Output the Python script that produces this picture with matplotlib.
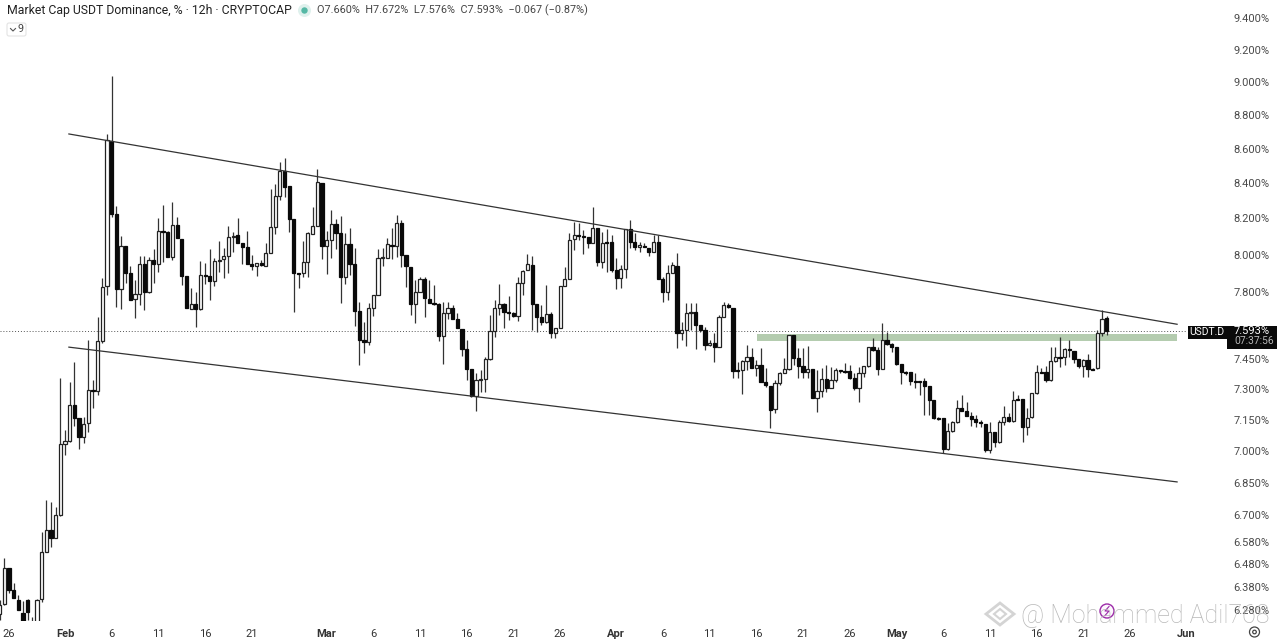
import matplotlib
matplotlib.use('Agg')
import matplotlib.pyplot as plt
import matplotlib.dates as mdates
from matplotlib.patches import Circle, FancyBboxPatch, Polygon, Rectangle
import numpy as np
import pandas as pd

plt.rcParams['font.family'] = ['Roboto', 'DejaVu Sans']

opens = [
    6.263, 6.306, 6.463, 6.367, 6.323, 6.267, 6.323, 6.190, 6.230, 6.327,
    6.533, 6.633, 6.596, 6.700, 7.033, 7.047, 7.222, 7.159, 7.067, 7.135,
    7.296, 7.291, 7.543, 7.831, 8.645, 8.225, 7.815, 8.048, 7.902, 7.762,
    7.789, 7.950, 7.800, 7.971, 7.950, 8.130, 8.125, 7.987, 8.163, 8.086,
    7.886, 7.709, 7.736, 7.709, 7.891, 7.886, 7.859, 7.966, 7.976, 7.993,
    8.097, 8.108, 8.064, 8.042, 7.950, 7.939, 7.955, 7.939, 8.009, 8.152,
    8.327, 8.469, 8.383, 8.197, 7.902, 7.902, 7.960, 8.114, 8.158, 8.400,
    8.048, 8.081, 8.169, 8.119, 7.880, 8.059, 7.950, 7.699, 7.548, 7.538,
    7.715, 7.783, 7.982, 7.982, 8.053, 8.048, 8.174, 7.998, 7.934, 7.736,
    7.800, 7.870, 7.762, 7.741, 7.736, 7.569, 7.689, 7.715, 7.657, 7.605,
    7.502, 7.401, 7.266, 7.346, 7.351, 7.452, 7.595, 7.715, 7.736, 7.693,
    7.689, 7.673, 7.848, 7.918, 7.945, 7.736, 7.668, 7.642, 7.683, 7.585,
    7.610, 7.831, 7.870, 8.086, 8.108, 8.103, 8.097, 8.064, 8.147, 7.960,
    8.070, 8.070, 7.918, 7.875, 7.923, 8.141, 8.070, 8.042, 8.048, 8.037,
    8.015, 8.070, 7.870, 7.800, 7.902, 7.939, 7.585, 7.600, 7.689, 7.693,
    7.626, 7.600, 7.522, 7.533, 7.512, 7.668, 7.730, 7.715, 7.396, 7.396,
    7.442, 7.462, 7.406, 7.421, 7.336, 7.316, 7.203, 7.331, 7.381, 7.401,
    7.574, 7.457, 7.416, 7.386, 7.401, 7.256, 7.291, 7.351, 7.306, 7.346,
    7.396, 7.391, 7.391, 7.356, 7.306, 7.381, 7.416, 7.512, 7.497, 7.401,
    7.548, 7.528, 7.512, 7.426, 7.386, 7.386, 7.341, 7.341, 7.341, 7.316,
    7.246, 7.159, 7.159, 7.009, 7.096, 7.140, 7.208, 7.193, 7.169, 7.154,
    7.140, 7.130, 7.004, 7.091, 7.042, 7.140, 7.164, 7.145, 7.251, 7.251,
    7.115, 7.164, 7.281, 7.386, 7.386, 7.346, 7.442, 7.462, 7.462, 7.502,
    7.492, 7.452, 7.416, 7.447, 7.401, 7.406, 7.585, 7.660,
]
highs = [
    6.323, 6.507, 6.463, 6.397, 6.345, 6.319, 6.327, 6.251, 6.327, 6.624,
    6.769, 6.760, 6.737, 7.356, 7.101, 7.336, 7.437, 7.159, 7.164, 7.548,
    7.346, 7.668, 7.875, 8.686, 9.035, 8.270, 8.103, 8.048, 7.939, 7.864,
    7.993, 7.993, 7.987, 8.031, 8.202, 8.275, 8.130, 8.293, 8.208, 8.086,
    7.886, 7.820, 7.800, 7.966, 7.955, 8.031, 7.982, 8.075, 8.037, 8.158,
    8.125, 8.202, 8.064, 8.130, 7.998, 7.955, 7.971, 8.064, 8.366, 8.395,
    8.521, 8.545, 8.383, 8.197, 7.902, 8.075, 8.125, 8.264, 8.481, 8.400,
    8.130, 8.247, 8.197, 8.213, 8.119, 8.147, 8.037, 7.746, 7.642, 7.741,
    7.783, 8.031, 8.037, 8.092, 8.147, 8.219, 8.191, 7.998, 7.934, 7.864,
    7.880, 7.880, 7.864, 7.837, 7.741, 7.746, 7.746, 7.730, 7.689, 7.605,
    7.548, 7.401, 7.381, 7.396, 7.462, 7.678, 7.757, 7.842, 7.741, 7.778,
    7.693, 7.880, 7.918, 8.004, 7.993, 7.736, 7.730, 7.837, 7.693, 7.610,
    7.831, 7.934, 8.119, 8.180, 8.174, 8.136, 8.097, 8.264, 8.147, 8.125,
    8.141, 8.108, 7.982, 7.945, 8.141, 8.191, 8.119, 8.070, 8.064, 8.037,
    8.108, 8.108, 7.880, 7.945, 7.960, 8.009, 7.642, 7.741, 7.741, 7.741,
    7.626, 7.616, 7.548, 7.585, 7.678, 7.746, 7.741, 7.715, 7.437, 7.447,
    7.522, 7.507, 7.447, 7.507, 7.406, 7.316, 7.346, 7.386, 7.457, 7.574,
    7.574, 7.507, 7.507, 7.517, 7.401, 7.396, 7.406, 7.421, 7.411, 7.406,
    7.396, 7.432, 7.421, 7.381, 7.411, 7.416, 7.512, 7.559, 7.512, 7.637,
    7.590, 7.533, 7.512, 7.426, 7.391, 7.386, 7.381, 7.341, 7.356, 7.316,
    7.246, 7.164, 7.159, 7.135, 7.145, 7.246, 7.271, 7.236, 7.188, 7.173,
    7.149, 7.130, 7.140, 7.091, 7.149, 7.217, 7.183, 7.291, 7.271, 7.251,
    7.208, 7.281, 7.421, 7.406, 7.416, 7.512, 7.512, 7.564, 7.507, 7.548,
    7.492, 7.452, 7.452, 7.477, 7.406, 7.600, 7.704, 7.672,
]
lows = [
    6.238, 6.301, 6.354, 6.332, 6.280, 6.217, 6.238, 6.170, 6.217, 6.315,
    6.533, 6.555, 6.596, 6.696, 6.980, 7.042, 7.120, 7.009, 7.038, 7.091,
    7.208, 7.271, 7.533, 7.783, 8.208, 7.720, 7.709, 7.848, 7.757, 7.662,
    7.730, 7.704, 7.794, 7.848, 7.907, 7.960, 7.987, 7.971, 8.092, 7.837,
    7.715, 7.709, 7.616, 7.704, 7.842, 7.757, 7.831, 7.907, 7.875, 7.902,
    8.015, 8.064, 7.950, 7.950, 7.918, 7.886, 7.939, 7.939, 8.009, 8.114,
    8.304, 8.320, 8.125, 7.693, 7.820, 7.880, 7.880, 8.114, 8.158, 7.976,
    7.897, 7.982, 8.031, 7.741, 7.842, 7.891, 7.621, 7.421, 7.482, 7.522,
    7.673, 7.783, 7.939, 7.982, 7.976, 7.987, 7.934, 7.826, 7.678, 7.637,
    7.800, 7.668, 7.741, 7.730, 7.543, 7.426, 7.657, 7.657, 7.610, 7.467,
    7.346, 7.261, 7.193, 7.286, 7.286, 7.447, 7.564, 7.678, 7.610, 7.652,
    7.668, 7.647, 7.783, 7.918, 7.600, 7.590, 7.626, 7.637, 7.559, 7.559,
    7.610, 7.831, 7.870, 8.026, 8.081, 8.004, 8.037, 8.064, 7.939, 7.928,
    7.907, 7.907, 7.815, 7.820, 7.875, 8.037, 8.026, 8.015, 8.042, 7.993,
    8.015, 7.870, 7.746, 7.757, 7.902, 7.507, 7.548, 7.517, 7.600, 7.502,
    7.590, 7.497, 7.517, 7.437, 7.512, 7.668, 7.715, 7.356, 7.356, 7.276,
    7.396, 7.406, 7.366, 7.336, 7.311, 7.111, 7.183, 7.321, 7.381, 7.396,
    7.421, 7.356, 7.356, 7.356, 7.256, 7.188, 7.261, 7.286, 7.306, 7.336,
    7.381, 7.381, 7.351, 7.296, 7.236, 7.361, 7.411, 7.492, 7.371, 7.401,
    7.522, 7.487, 7.421, 7.326, 7.371, 7.321, 7.306, 7.271, 7.173, 7.173,
    7.154, 7.149, 6.990, 7.004, 7.091, 7.135, 7.193, 7.169, 7.120, 7.115,
    7.115, 6.994, 6.990, 7.018, 7.038, 7.125, 7.140, 7.140, 7.246, 7.042,
    7.077, 7.159, 7.276, 7.381, 7.336, 7.341, 7.437, 7.411, 7.421, 7.462,
    7.432, 7.406, 7.361, 7.361, 7.396, 7.401, 7.569, 7.576,
]
closes = [
    6.301, 6.463, 6.367, 6.332, 6.280, 6.217, 6.272, 6.210, 6.323, 6.533,
    6.633, 6.596, 6.700, 7.033, 7.047, 7.222, 7.159, 7.067, 7.130, 7.296,
    7.291, 7.543, 7.826, 8.651, 8.225, 7.815, 8.048, 7.902, 7.757, 7.789,
    7.950, 7.800, 7.971, 7.950, 8.130, 8.125, 7.987, 8.163, 8.092, 7.886,
    7.715, 7.736, 7.709, 7.891, 7.886, 7.859, 7.966, 7.971, 7.993, 8.097,
    8.103, 8.064, 8.042, 7.950, 7.939, 7.955, 7.945, 8.009, 8.152, 8.327,
    8.469, 8.377, 8.197, 7.902, 7.897, 7.960, 8.119, 8.158, 8.406, 8.048,
    8.081, 8.169, 8.119, 7.880, 8.059, 7.950, 7.699, 7.548, 7.538, 7.715,
    7.783, 7.982, 7.987, 8.059, 8.048, 8.174, 7.998, 7.939, 7.736, 7.800,
    7.870, 7.768, 7.741, 7.736, 7.569, 7.689, 7.715, 7.657, 7.610, 7.502,
    7.401, 7.266, 7.346, 7.351, 7.452, 7.595, 7.715, 7.736, 7.693, 7.689,
    7.673, 7.848, 7.913, 7.950, 7.736, 7.668, 7.642, 7.683, 7.585, 7.610,
    7.831, 7.870, 8.081, 8.108, 8.103, 8.097, 8.064, 8.147, 7.960, 8.064,
    8.064, 7.918, 7.875, 7.923, 8.141, 8.070, 8.042, 8.053, 8.042, 8.015,
    8.070, 7.870, 7.800, 7.902, 7.945, 7.585, 7.600, 7.689, 7.693, 7.626,
    7.600, 7.522, 7.533, 7.512, 7.668, 7.730, 7.720, 7.391, 7.391, 7.442,
    7.462, 7.406, 7.421, 7.336, 7.321, 7.198, 7.331, 7.381, 7.401, 7.574,
    7.457, 7.416, 7.386, 7.401, 7.256, 7.291, 7.351, 7.306, 7.346, 7.396,
    7.391, 7.386, 7.356, 7.306, 7.381, 7.416, 7.512, 7.497, 7.401, 7.548,
    7.528, 7.512, 7.426, 7.386, 7.381, 7.341, 7.336, 7.336, 7.316, 7.246,
    7.159, 7.154, 7.009, 7.096, 7.140, 7.208, 7.193, 7.169, 7.154, 7.140,
    7.135, 7.004, 7.091, 7.042, 7.140, 7.164, 7.145, 7.246, 7.246, 7.115,
    7.159, 7.281, 7.386, 7.381, 7.346, 7.442, 7.462, 7.457, 7.502, 7.497,
    7.452, 7.416, 7.447, 7.401, 7.396, 7.585, 7.657, 7.593,
]

first_candle = '2025-01-25 00:00'
price_ticks = [9.4, 9.2, 9.0, 8.8, 8.6, 8.4, 8.2, 8.0, 7.8, 7.45, 7.3, 7.15,
               7.0, 6.85, 6.7, 6.58, 6.48, 6.38, 6.28]
date_ticks = ['2025-01-26', '2025-02-01', '2025-02-06', '2025-02-11', '2025-02-16',
              '2025-02-21', '2025-03-01', '2025-03-06', '2025-03-11', '2025-03-16',
              '2025-03-21', '2025-03-26', '2025-04-01', '2025-04-06', '2025-04-11',
              '2025-04-16', '2025-04-21', '2025-04-26', '2025-05-01', '2025-05-06',
              '2025-05-11', '2025-05-16', '2025-05-21', '2025-05-26', '2025-06-01']
date_labels = ['26', 'Feb', '6', '11', '16', '21', 'Mar', '6', '11', '16', '21', '26',
               'Apr', '6', '11', '16', '21', '26', 'May', '6', '11', '16', '21', '26', 'Jun']

# trend lines and the support band
upper_dates = ['2025-02-01 10:00', '2025-05-31 01:00']
upper_vals = [8.686, 7.630]
lower_dates = ['2025-02-01 10:00', '2025-05-31 01:00']
lower_vals = [7.512, 6.853]
band_dates = ['2025-04-16 02:00', '2025-05-31 01:00']
band_vals = [7.544, 7.579]
last_price = 7.593

W, H = 1280, 641
fig = plt.figure(figsize=(W / 100, H / 100), dpi=100)
ax = fig.add_axes([0, 1 - 621 / H, 1228 / W, 621 / H])

o = np.array(opens)
c = np.array(closes)
x = mdates.date2num(pd.date_range(first_candle, periods=len(o), freq='12h'))
feb1 = mdates.date2num(pd.Timestamp('2025-02-01'))
day_px = 9.342

ax.vlines(x, lows, highs, color='#333333', lw=0.9, zorder=3)
up = c >= o
body_w = 3.2 / day_px
ax.bar(x[up], (c - o)[up], bottom=o[up], width=body_w, facecolor='white',
       edgecolor='#222222', linewidth=0.9, zorder=4)
ax.bar(x[~up], (o - c)[~up], bottom=c[~up], width=body_w, facecolor='#0a0a0a',
       edgecolor='#0a0a0a', linewidth=0.9, zorder=4)

ax.plot(mdates.datestr2num(upper_dates), upper_vals, color='#333333', lw=0.9, zorder=5)
ax.plot(mdates.datestr2num(lower_dates), lower_vals, color='#333333', lw=0.9, zorder=5)
bd = mdates.datestr2num(band_dates)
ax.fill_between(bd, band_vals[0], band_vals[1], color='#b4ccaf', lw=0, zorder=2)
ax.hlines(last_price, feb1 - 65 / day_px, mdates.datestr2num('2025-06-01'),
          color='#555555', lw=0.7, linestyles=(0, (1, 2)), zorder=1)

ax.set_yscale('log')
ax.set_ylim(9.4 * np.exp(-603 / 1468), 9.4 * np.exp(18 / 1468))
ax.set_xlim(feb1 - 65 / day_px, feb1 + (1228 - 65) / day_px)
ax.yaxis.tick_right()
ax.set_yticks(price_ticks)
ax.set_yticklabels(['%.3f%%' % p for p in price_ticks])
ax.minorticks_off()
ax.tick_params(axis='y', length=0, pad=4, labelsize=8, labelcolor='#4a4a4a')
ax.set_xticks(mdates.datestr2num(date_ticks))
ax.set_xticklabels(date_labels)
ax.tick_params(axis='x', length=0, pad=6, labelsize=8, labelcolor='#333333')
for t in ax.get_xticklabels():
    if t.get_text() in ('Feb', 'Mar', 'Apr', 'May', 'Jun'):
        t.set_fontweight('bold')
for s in ax.spines.values():
    s.set_visible(False)

# overlay in pixel units for the header, price tags and icons
ov = fig.add_axes([0, 0, 1, 1], zorder=10)
ov.set_xlim(0, W)
ov.set_ylim(H, 0)
ov.axis('off')

ov.text(7, 10.5, 'Market Cap USDT Dominance, % · 12h · CRYPTOCAP', fontsize=8.8,
        color='#222222', va='center', ha='left')
ov.add_patch(Circle((304.5, 10.5), 6.5, fc='#dff1ed', ec='none'))
ov.add_patch(Circle((304.5, 10.5), 3.2, fc='#55b8a5', ec='none'))
ov.text(317, 10.5, 'O7.660%  H7.672%  L7.576%  C7.593%  −0.067 (−0.87%)', fontsize=7.85,
        color='#444444', va='center', ha='left')
ov.add_patch(FancyBboxPatch((7, 23), 19, 13, boxstyle='round,pad=0,rounding_size=2',
                            fc='white', ec='#e3e3e3', lw=0.8))
ov.plot([10.5, 13, 15.5], [28.5, 31, 28.5], color='#555555', lw=0.8)
ov.text(18, 29.5, '9', fontsize=7.8, color='#444444', va='center', ha='left')

ov.add_patch(Rectangle((1188, 326), 38.5, 12.5, fc='#0a0a0a', ec='none'))
ov.add_patch(Rectangle((1227, 326), 50, 22.5, fc='#0a0a0a', ec='none'))
ov.text(1207, 332.3, 'USDT.D', fontsize=7.4, color='white', va='center', ha='center')
ov.text(1234, 331.5, '7.593%', fontsize=8, color='white', va='center', ha='left')
ov.text(1234, 341.5, '07:37:56', fontsize=7.4, color='#b8b8b8', va='center', ha='left')

# watermark
ov.text(1021, 616, '@ Mohammed Adil768', fontsize=18, color='#b0b0b0', alpha=0.9,
        va='center', ha='left', fontweight='light')
ov.add_patch(Polygon([(1000, 603), (1014, 614), (1000, 625), (986, 614)], closed=True,
                     fc='none', ec='#d4d4d4', lw=2))
ov.add_patch(Polygon([(1000, 609), (1006, 614), (1000, 619), (994, 614)], closed=True,
                     fc='none', ec='#d4d4d4', lw=1.5))

# purple marker and settings icon
ov.add_patch(Circle((1107, 611), 7, fc='#fdf7fe', ec='#9c2aa8', lw=1.0))
ov.plot([1109, 1105, 1109, 1105], [606.5, 611, 611, 615.5], color='#9c2aa8', lw=0.8)
ov.add_patch(Circle((1254.5, 632), 5, fc='none', ec='#444444', lw=0.9))
ov.add_patch(Circle((1254.5, 632), 1.8, fc='none', ec='#444444', lw=0.9))

fig.savefig('out.png', dpi=100, facecolor='white')
